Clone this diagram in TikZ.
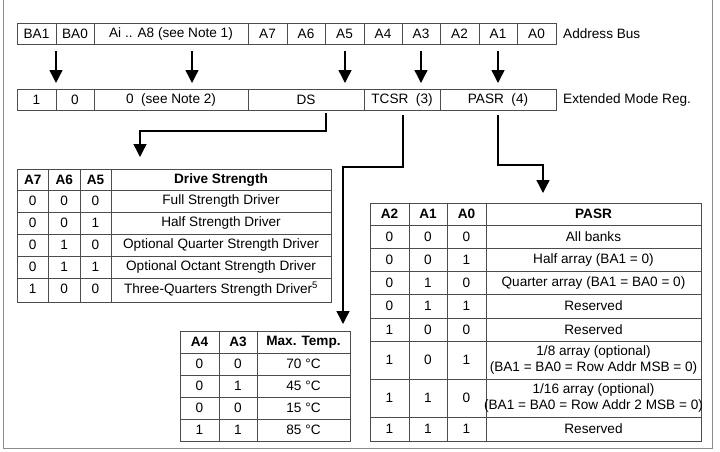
\documentclass[tikz,border=0pt]{standalone}
\usepackage{fontspec}
\setmainfont{Liberation Sans}
\usetikzlibrary{arrows.meta}
\begin{document}
\begin{tikzpicture}[x=1pt,y=-1pt,
  grid/.style={draw=black!70,line width=0.6pt},
  t/.style={font=\fontsize{13.6}{15}\selectfont,inner sep=0pt},
  b/.style={t,font=\fontsize{13.6}{15}\selectfont\bfseries},
  conn/.style={line width=1.4pt,-{Triangle[width=13pt,length=13pt]}}]
\useasboundingbox (0,0) rectangle (720,451);
\draw[black!45,line width=0.8pt] (3,0) -- (3,448) -- (712,448) -- (712,0);
% Address bus row
\foreach \a/\b/\s [count=\i] in {17/56/BA1,56/94/BA0,94/248/{Ai .. A8 (see Note 1)},248/287/A7,287/325/A6,325/364/A5,364/402/A4,402/440/A3,440/479/A2,479/517/A1,517/556/A0}
 {\draw[grid] (\a,23) rectangle (\b,44); \node[t] (ab\i) at ({(\a+\b)/2},33.5) {\s};}
\node[t,anchor=west] (abl) at (563,33.5) {Address Bus};
% Extended mode row
\foreach \a/\b/\s [count=\i] in {17/56/1,56/94/0,94/248/{0\ \ (see Note 2)},248/364/DS,364/440/{TCSR\ \ (3)},440/556/{PASR\ \ (4)}}
 {\draw[grid] (\a,89) rectangle (\b,110); \node[t] (em\i) at ({(\a+\b)/2},99.5) {\s};}
\node[t,anchor=west] (eml) at (563,99.5) {Extended Mode Reg.};
% vertical arrows
\foreach \x [count=\i] in {56,192,345,421,498}
 {\coordinate (s\i) at (\x,51); \coordinate (e\i) at (\x,83); \draw[conn] (s\i) -- (e\i);}
% DS
\coordinate (ds0) at (326,113); \coordinate (ds1) at (140,157);
\draw[conn] (ds0) -- (326,131) -- (140,131) -- (ds1);
\coordinate (tc0) at (403,115); \coordinate (tc1) at (343,324);
\draw[conn] (tc0) -- (403,167) -- (343,167) -- (tc1);
\coordinate (pa0) at (498,115); \coordinate (pa1) at (543,193);
\draw[conn] (pa0) -- (498,165) -- (543,165) -- (pa1);
% Drive strength table
\draw[grid] (17,169) rectangle (331,302);
\foreach \y in {190,212,234,256,278} \draw[grid] (17,\y) -- (331,\y);
\foreach \x in {48.5,80,111} \draw[grid] (\x,169) -- (\x,302);
\node[b] (d0a) at (32.75,180) {A7}; \node[b] (d0b) at (64.25,180) {A6}; \node[b] (d0c) at (95.5,180) {A5}; \node[b] (d0d) at (221,180) {Drive Strength};
\foreach \p/\q/\r/\s [count=\i] in {0/0/0/Full Strength Driver,0/0/1/Half Strength Driver,0/1/0/Optional Quarter Strength Driver,0/1/1/Optional Octant Strength Driver,1/0/0/{Three-Quarters Strength Driver$^{\mathrm{5}}$}}
 {\pgfmathsetmacro\yy{190+22*\i-11}
  \node[t] (da\i) at (32.75,\yy) {\p}; \node[t] (db\i) at (64.25,\yy) {\q}; \node[t] (dc\i) at (95.5,\yy) {\r}; \node[t] (dd\i) at (221,\yy) {\s};}
% Temp table
\draw[grid] (180,331) rectangle (350,441);
\foreach \y in {353,375,397,419} \draw[grid] (180,\y) -- (350,\y);
\foreach \x in {219,257} \draw[grid] (\x,331) -- (\x,441);
\node[b] (m0a) at (199.5,342) {A4}; \node[b] (m0b) at (238,342) {A3}; \node[b] (m0c) at (303.5,342) {Max. Temp.};
\foreach \p/\q/\s [count=\i] in {0/0/70 °C,0/1/45 °C,0/0/15 °C,1/1/85 °C}
 {\pgfmathsetmacro\yy{353+22*\i-11}
  \node[t] (ma\i) at (199.5,\yy) {\p}; \node[t] (mb\i) at (238,\yy) {\q}; \node[t] (mc\i) at (303.5,\yy) {\s};}
% PASR table
\draw[grid] (370,203) rectangle (701,441);
\foreach \y in {225,248,271,294,318,341,379,417} \draw[grid] (370,\y) -- (701,\y);
\foreach \x in {409,447,486} \draw[grid] (\x,203) -- (\x,441);
\node[b] (p0a) at (389.5,214) {A2}; \node[b] (p0b) at (428,214) {A1}; \node[b] (p0c) at (466.5,214) {A0}; \node[b] (p0d) at (593.5,214) {PASR};
\foreach \p/\q/\r/\s/\yy [count=\i] in {0/0/0/All banks/236.5,0/0/1/{Half array (BA1 = 0)}/259.5,0/1/0/{Quarter array (BA1 = BA0 = 0)}/282.5,0/1/1/Reserved/306,1/0/0/Reserved/329.5,1/0/1/{\shortstack{1/8 array (optional)\\(BA1 = BA0 = Row Addr MSB = 0)}}/360,1/1/0/{\shortstack{1/16 array (optional)\\(BA1 = BA0 = Row Addr 2 MSB = 0)}}/398,1/1/1/Reserved/429}
 {\node[t] (pa\i) at (389.5,\yy) {\p}; \node[t] (pb\i) at (428,\yy) {\q}; \node[t] (pc\i) at (466.5,\yy) {\r}; \node[t,align=center] (pd\i) at (593.5,\yy) {\s};}
\end{tikzpicture}
\end{document}
